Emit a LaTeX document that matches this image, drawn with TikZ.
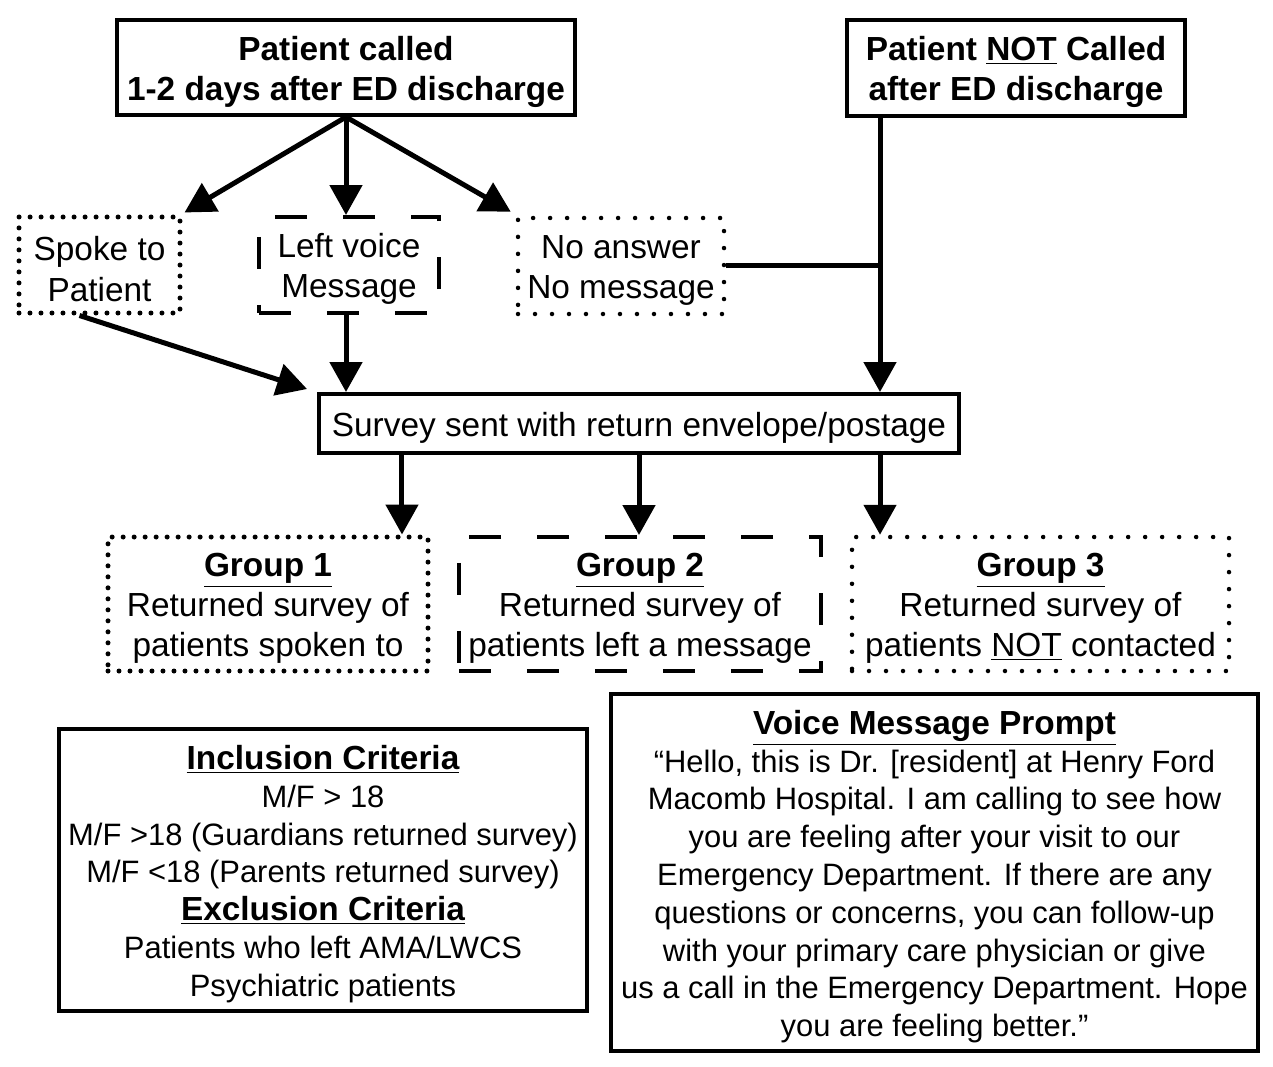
\documentclass[tikz,border=0pt]{standalone}
\usepackage{fontspec}
\setmainfont{Liberation Sans}
\usetikzlibrary{positioning,arrows.meta}
\newcommand{\lift}{\rule{0pt}{18.4pt}}
\newcommand{\heading}[1]{{\fontsize{19}{22.8}\selectfont\bfseries\underline{#1}}}

\begin{document}
\begin{tikzpicture}[x=0.02cm,y=-0.02cm,
	box/.style={draw,line width=0.08cm,inner sep=0pt,align=center,font={\fontsize{19}{22.8}\selectfont}},
	headbox/.style={box,font={\fontsize{19}{22.8}\selectfont\bfseries}},
	fewdots/.style={box,line width=0.1cm,line cap=round,dash pattern=on 0pt off 0.22cm},
	thindots/.style={box,line width=0.09cm,line cap=round,dash pattern=on 0pt off 0.34cm},
	dashbox/.style={box,dash pattern=on 0.64cm off 0.72cm},
	notebox/.style={box,font={\fontsize{17.6}{21.5}\selectfont}},
	arr/.style={line width=0.1cm,-{Triangle[length=0.6cm,width=0.64cm]}},
	link/.style={line width=0.1cm}]
	\useasboundingbox (0,0) rectangle (1273,1067);
	\node [headbox,minimum width=458*0.02cm,minimum height=95*0.02cm] (called) at (346,67.5) {\lift Patient called\\1-2 days after ED discharge};
	\node [headbox,minimum width=338*0.02cm,minimum height=96*0.02cm] (notcalled) at (1016,68) {\lift Patient \underline{NOT} Called\\after ED discharge};
	\node [fewdots,minimum width=161*0.02cm,minimum height=96*0.02cm] (spoke) at (99.5,265) {\lift Spoke to\\Patient};
	\node [dashbox,minimum width=180*0.02cm,minimum height=96*0.02cm] (voicemsg) at (349,265) {\lift Left voice\\Message};
	\node [thindots,minimum width=206*0.02cm,minimum height=96*0.02cm] (noanswer) at (621,266) {\lift No answer\\No message};
	\node [box,minimum width=640*0.02cm,minimum height=59*0.02cm] (survey) at (639,423.5) {\lift Survey sent with return envelope/postage};
	\node [fewdots,minimum width=320*0.02cm,minimum height=134*0.02cm] (groupone) at (268,604) {\lift\textbf{\underline{Group 1}}\\Returned survey of\\patients spoken to};
	\node [dashbox,minimum width=362*0.02cm,minimum height=134*0.02cm] (grouptwo) at (640,604) {\lift\textbf{\underline{Group 2}}\\Returned survey of\\patients left a message};
	\node [thindots,minimum width=377*0.02cm,minimum height=134*0.02cm] (groupthree) at (1040.5,604) {\lift\textbf{\underline{Group 3}}\\Returned survey of\\patients \underline{NOT} contacted};
	\node [notebox,minimum width=528*0.02cm,minimum height=282*0.02cm] (criteria) at (323,870) {\lift\heading{Inclusion Criteria}\\M/F > 18\\M/F >18 (Guardians returned survey)\\M/F <18 (Parents returned survey)\\\heading{Exclusion Criteria}\\Patients who left AMA/LWCS\\Psychiatric patients};
	\node [notebox,minimum width=647*0.02cm,minimum height=357*0.02cm] (prompt) at (934.5,872.5) {\lift\heading{Voice Message Prompt}\\“Hello, this is Dr. [resident] at Henry Ford\\Macomb Hospital. I am calling to see how\\you are feeling after your visit to our\\Emergency Department. If there are any\\questions or concerns, you can follow-up\\with your primary care physician or give\\us a call in the Emergency Department. Hope\\you are feeling better.”};
	\coordinate (drop) at ([xshift=0.7cm]notcalled.south west);
	\coordinate (outone) at ([xshift=1.7cm]survey.south west);
	\coordinate (outthree) at ([xshift=-1.62cm]survey.south east);
	\draw [arr] (called.south) -- ([shift={(0.04cm,0.04cm)}]spoke.north east);
	\draw [arr] (called.south) -- (called.south |- voicemsg.north);
	\draw [arr] (called.south) -- ([shift={(-0.1cm,0.08cm)}]noanswer.north west);
	\draw [arr] ([xshift=-0.4cm]spoke.south) -- ([shift={(-0.2cm,0.06cm)}]survey.north west);
	\draw [arr] (called.south |- voicemsg.south) -- (called.south |- survey.north);
	\draw [arr] (drop) -- (drop |- survey.north);
	\draw [link] (noanswer.east) -- (noanswer.east -| drop);
	\draw [arr] (outone) -- (outone |- groupone.north);
	\draw [arr] (survey.south) -- (survey.south |- grouptwo.north);
	\draw [arr] (outthree) -- (outthree |- groupthree.north);
\end{tikzpicture}
\end{document}
